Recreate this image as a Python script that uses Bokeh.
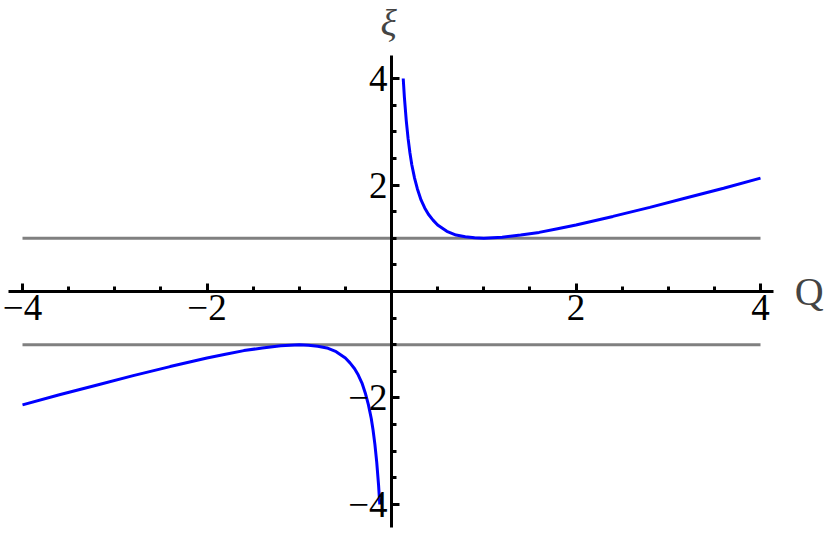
from bokeh.plotting import figure
from bokeh.models import Range1d, FixedTicker, Label
from bokeh.embed import file_html
from bokeh.resources import INLINE

# Positive branch (Q, xi)
q_pos = [0.127, 0.14, 0.16, 0.18, 0.20, 0.22, 0.25, 0.28, 0.32, 0.36, 0.40, 0.45,
         0.50, 0.60, 0.70, 0.80, 0.90, 1.00, 1.20, 1.40, 1.60, 1.80, 2.00, 2.40,
         2.80, 3.20, 3.60, 4.00]
xi_pos = [4.00, 3.64, 3.21, 2.87, 2.60, 2.38, 2.13, 1.93, 1.72, 1.57, 1.45, 1.34,
          1.25, 1.13, 1.06, 1.03, 1.01, 1.00, 1.02, 1.06, 1.11, 1.18, 1.25, 1.41,
          1.58, 1.76, 1.94, 2.13]
# Negative branch
q_neg = [-4.00, -3.60, -3.20, -2.80, -2.40, -2.00, -1.80, -1.60, -1.40, -1.20,
         -1.00, -0.90, -0.80, -0.70, -0.60, -0.50, -0.45, -0.40, -0.36, -0.32,
         -0.28, -0.25, -0.22, -0.20, -0.18, -0.16, -0.14, -0.127]
xi_neg = [-2.13, -1.94, -1.76, -1.58, -1.41, -1.25, -1.18, -1.11, -1.06, -1.02,
          -1.00, -1.01, -1.03, -1.06, -1.13, -1.25, -1.34, -1.45, -1.57, -1.72,
          -1.93, -2.13, -2.38, -2.60, -2.87, -3.21, -3.64, -4.00]
# Horizontal reference levels
ref_levels = [1.0, -1.0]
ref_span = [-4.0, 4.0]

x_ticks = [-4, -2, 2, 4]
x_tick_labels = {-4: "\u22124", -2: "\u22122", 2: "2", 4: "4"}
y_ticks = [-4, -2, 2, 4]
y_tick_labels = {-4: "\u22124", -2: "\u22122", 2: "2", 4: "4"}
minor = [-3.5, -3, -2.5, -1.5, -1, -0.5, 0.5, 1, 1.5, 2.5, 3, 3.5]

p = figure(width=825, height=534, output_backend="svg", toolbar_location=None,
           x_range=Range1d(-4.2385, 4.7046), y_range=Range1d(-4.5634, 5.4648),
           min_border=0)
p.outline_line_color = None
p.grid.visible = False
p.background_fill_color = "white"

for lv in ref_levels:
    p.line(ref_span, [lv, lv], line_color="#808080", line_width=3)
p.line(q_pos, xi_pos, line_color="#0000ff", line_width=3)
p.line(q_neg, xi_neg, line_color="#0000ff", line_width=3)

xa = p.xaxis[0]
xa.fixed_location = 0
xa.bounds = (-4.15, 4.14)
xa.ticker = FixedTicker(ticks=x_ticks, minor_ticks=minor)
xa.major_label_overrides = x_tick_labels
ya = p.yaxis[0]
ya.fixed_location = 0
ya.bounds = (-4.43, 4.43)
ya.ticker = FixedTicker(ticks=y_ticks, minor_ticks=minor)
ya.major_label_overrides = y_tick_labels

for ax in (xa, ya):
    ax.axis_line_width = 3
    ax.axis_line_color = "black"
    ax.major_tick_line_width = 3
    ax.minor_tick_line_width = 3
    ax.major_tick_in = 8
    ax.major_tick_out = 0
    ax.minor_tick_in = 5
    ax.minor_tick_out = 0
    ax.major_label_text_font = "Liberation Serif"
    ax.major_label_text_font_size = "37px"
    ax.major_label_text_font_style = "normal"
    ax.major_label_text_color = "black"
    ax.major_label_standoff = 4

p.add_layout(Label(x=4.37, y=0, text="Q", text_font="Liberation Serif",
                   text_font_size="40px", text_baseline="middle", text_align="left"))
p.add_layout(Label(x=-0.03, y=5.05, text="\u03be", text_font="Liberation Serif",
                   text_font_style="italic", text_font_size="38px",
                   text_baseline="middle", text_align="center"))

open("out.html", "w").write(file_html(p, INLINE))
